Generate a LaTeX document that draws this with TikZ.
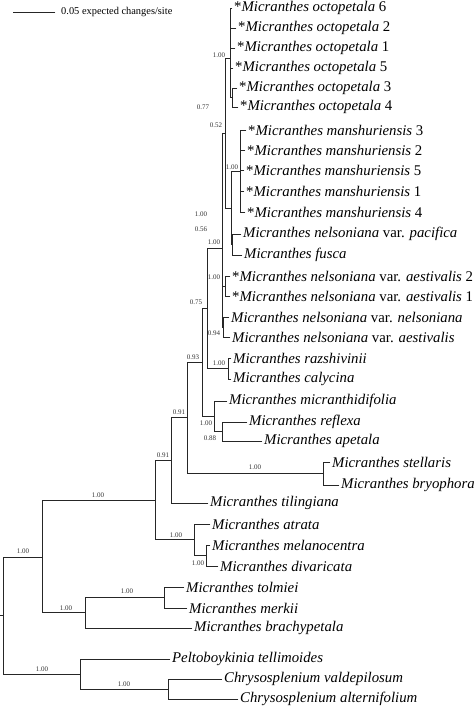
\documentclass[tikz,border=0pt]{standalone}
\usepackage{fontspec}
\setmainfont{Liberation Serif}
\begin{document}
\begin{tikzpicture}[x=1pt,y=-1pt,
  br/.style={line width=0.85pt, draw=black!85, line cap=rect},
  leaf/.style={anchor=west, inner sep=0pt, xshift=2pt, font=\fontsize{14.8}{16}\selectfont},
  supp/.style={inner sep=0pt, font=\fontsize{7}{8}\selectfont, text=black!80}]
\useasboundingbox (0,0) rectangle (474,707);
% ---------- internal nodes ----------
\coordinate (root) at (3,615.5);
\coordinate (ING) at (42,557);
\coordinate (OUT) at (80,674.5);
\coordinate (A) at (155,500.5);
\coordinate (LOW) at (85,612.5);
\coordinate (B) at (171,460);
\coordinate (ATR) at (194,539.5);
\coordinate (C) at (187,417.5);
\coordinate (ST) at (323,473.5);
\coordinate (D) at (202,362);
\coordinate (E) at (214,416.5);
\coordinate (F) at (222,431.5);
\coordinate (G) at (207,308.5);
\coordinate (RC) at (228,368.5);
\coordinate (H) at (222,248);
\coordinate (X) at (222,170);
\coordinate (Y) at (225,133);
\coordinate (O) at (230,58);
\coordinate (OP) at (232,97.5);
\coordinate (M) at (231,208);
\coordinate (MAN) at (240,171);
\coordinate (PF) at (232,244.5);
\coordinate (AE) at (225,286);
\coordinate (NN) at (223,327);
\coordinate (MD) at (206,555.5);
\coordinate (TM) at (164,597.5);
\coordinate (CH) at (168,689);
\coordinate (stub) at (0,615.5);
% ---------- leaves ----------
\foreach \n/\x/\y/\t in {
 oct6/232/8/{*\textit{Micranthes octopetala} 6},
 oct2/236/28/{*\textit{Micranthes octopetala} 2},
 oct1/235/48/{*\textit{Micranthes octopetala} 1},
 oct5/233/68/{*\textit{Micranthes octopetala} 5},
 oct3/237/88/{*\textit{Micranthes octopetala} 3},
 oct4/238/107/{*\textit{Micranthes octopetala} 4},
 man3/246/130/{*\textit{Micranthes manshuriensis} 3},
 man2/245/150/{*\textit{Micranthes manshuriensis} 2},
 man5/244/170/{*\textit{Micranthes manshuriensis} 5},
 man1/244/191/{*\textit{Micranthes manshuriensis} 1},
 man4/245/212/{*\textit{Micranthes manshuriensis} 4},
 pac/241/234/{\textit{Micranthes nelsoniana} var. \textit{pacifica}},
 fus/242/255/{\textit{Micranthes fusca}},
 aeB/230/276/{*\textit{Micranthes nelsoniana} var. \textit{aestivalis} 2},
 aeA/230/296/{*\textit{Micranthes nelsoniana} var. \textit{aestivalis} 1},
 nns/229/317/{\textit{Micranthes nelsoniana} var. \textit{nelsoniana}},
 nae/230/337/{\textit{Micranthes nelsoniana} var. \textit{aestivalis}},
 raz/231/358/{\textit{Micranthes razshivinii}},
 cal/231/379/{\textit{Micranthes calycina}},
 mic/227/401/{\textit{Micranthes micranthidifolia}},
 ref/247/422/{\textit{Micranthes reflexa}},
 ape/262/441/{\textit{Micranthes apetala}},
 ste/330/462/{\textit{Micranthes stellaris}},
 bry/339/485/{\textit{Micranthes bryophora}},
 til/208/503/{\textit{Micranthes tilingiana}},
 atr/210/524/{\textit{Micranthes atrata}},
 mel/210/545/{\textit{Micranthes melanocentra}},
 div/218/566/{\textit{Micranthes divaricata}},
 tol/184/587/{\textit{Micranthes tolmiei}},
 mer/187/608/{\textit{Micranthes merkii}},
 bra/192/628/{\textit{Micranthes brachypetala}},
 pel/170/659/{\textit{Peltoboykinia tellimoides}},
 val/222/679/{\textit{Chrysosplenium valdepilosum}},
 alt/238/699/{\textit{Chrysosplenium alternifolium}}}
{\coordinate (t-\n) at (\x,\y); \node[leaf] (l-\n) at (t-\n) {\t};}
% ---------- branches ----------
\draw[br] (stub) -- (root);
\foreach \p/\c in {root/ING, root/OUT, ING/A, ING/LOW, A/B, A/ATR, B/C, B/t-til,
  C/D, C/ST, ST/t-ste, ST/t-bry, D/G, D/E, E/t-mic, E/F, F/t-ref, F/t-ape,
  G/H, G/RC, RC/t-raz, RC/t-cal, H/X, H/AE, H/NN, X/Y, Y/O, Y/M, M/MAN, M/PF,
  O/t-oct6, O/t-oct2, O/t-oct1, O/t-oct5, O/OP, OP/t-oct3, OP/t-oct4,
  MAN/t-man3, MAN/t-man2, MAN/t-man5, MAN/t-man1, MAN/t-man4,
  PF/t-pac, PF/t-fus, AE/t-aeB, AE/t-aeA, NN/t-nns, NN/t-nae,
  ATR/t-atr, ATR/MD, MD/t-mel, MD/t-div, LOW/TM, LOW/t-bra, TM/t-tol, TM/t-mer,
  OUT/t-pel, OUT/CH, CH/t-val, CH/t-alt}
{\draw[br] (\p) |- (\c);}
% ---------- support values ----------
\foreach \x/\y/\v [count=\i] in {
 23/551/1.00, 42/669/1.00, 98/495/1.00, 163/455/0.91, 176/535/1.00,
 179/412/0.91, 255/467/1.00, 193/357/0.93, 196/302/0.75, 206/423/1.00,
 210/438/0.88, 219/363/1.00, 214/242/1.00, 198/563/1.00, 66/608/1.00,
 127/591/1.00, 124/684/1.00, 219/55/1.00, 203/107/0.77, 216/125/0.52,
 232/167/1.00, 201/214/1.00, 201/229/0.56, 214/277/1.00, 214/333/0.94}
{\node[supp] (s\i) at (\x,\y) {\v};}
% ---------- scale bar ----------
\coordinate (sb1) at (13,12);
\coordinate (sb2) at (55,12);
\draw[br] (sb1) -- (sb2);
\node[anchor=west, inner sep=0pt, font=\fontsize{10.4}{12}\selectfont] (sbl) at (61,12) {0.05 expected changes/site};
\end{tikzpicture}
\end{document}
